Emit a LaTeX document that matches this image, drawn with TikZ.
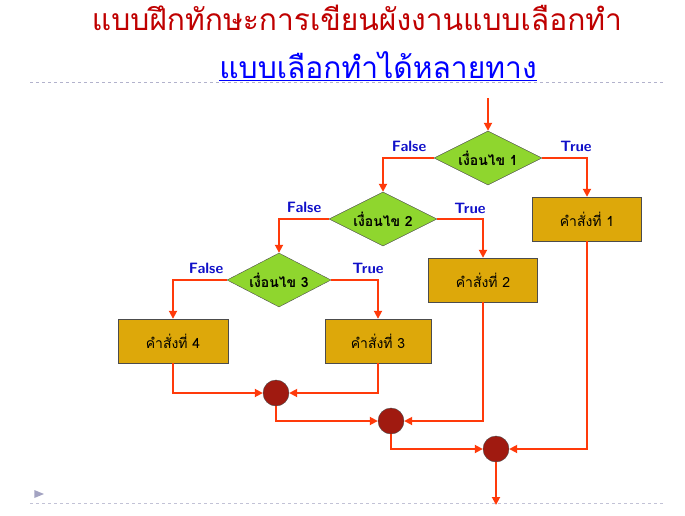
\documentclass[tikz,border=0pt]{standalone}
\usepackage{fontspec}
\newfontfamily\thaifont[Script=Thai]{Loma}
\usetikzlibrary{shapes.geometric,arrows.meta}
\definecolor{ln}{HTML}{FF3A0A}
\definecolor{dia}{HTML}{8FD62E}
\definecolor{bx}{HTML}{DDA80A}
\definecolor{cir}{HTML}{A01A10}
\definecolor{lbl}{HTML}{1010C8}
\begin{document}
\begin{tikzpicture}[x=1pt,y=-1pt,
  cond/.style={diamond,draw=black!70,fill=dia,minimum width=108pt,minimum height=54pt,aspect=2,inner sep=0pt,font=\thaifont\bfseries\fontsize{14}{16}\selectfont},
  stmt/.style={rectangle,draw=black!70,fill=bx,minimum width=109pt,minimum height=44pt,font=\thaifont\fontsize{14}{16}\selectfont},
  junc/.style={circle,draw=black!70,fill=cir,minimum size=26pt,inner sep=0pt},
  flow/.style={draw=ln,line width=1.8pt,-{Triangle[length=8pt,width=8pt]}},
  tf/.style={text=lbl,font=\sffamily\bfseries\fontsize{15}{16}\selectfont}]
\useasboundingbox (0,0) rectangle (685,515);
\node[text=red!75!black,font=\thaifont\fontsize{30}{32}\selectfont] (t1) at (357,18) {แบบฝึกทักษะการเขียนผังงานแบบเลือกทำ};
\node[text=blue,font=\thaifont\fontsize{30}{32}\selectfont] (t2) at (378,66) {\underline{แบบเลือกทำได้หลายทาง}};
\draw[dashed,draw=blue!20!gray!50] (30,82) -- (665,82);
\draw[dashed,draw=blue!20!gray!40] (30,503) -- (665,503);
\node[fill=blue!20!gray!60,isosceles triangle,minimum size=8pt,inner sep=0pt] (tri) at (37,494) {};
\node[cond] (d1) at (488,158) {เงื่อนไข 1};
\node[cond] (d2) at (383,219) {เงื่อนไข 2};
\node[cond,minimum width=104pt] (d3) at (279,280) {เงื่อนไข 3};
\node[stmt] (b1) at (587,219) {คำสั่งที่ 1};
\node[stmt] (b2) at (483,280) {คำสั่งที่ 2};
\node[stmt,minimum width=106pt] (b3) at (378,341) {คำสั่งที่ 3};
\node[stmt,minimum width=110pt] (b4) at (173,341) {คำสั่งที่ 4};
\node[junc] (c1) at (276,393) {};
\node[junc] (c2) at (391,421) {};
\node[junc] (c3) at (496,449) {};
\coordinate (s) at (488,98);
\coordinate (e) at (496,505);
\draw[flow] (s) -- (d1.north);
\draw[flow] (d1.west) -| (d2.north);
\draw[flow] (d1.east) -| (b1.north);
\draw[flow] (d2.west) -| (d3.north);
\draw[flow] (d2.east) -| (b2.north);
\draw[flow] (d3.west) -| (b4.north);
\draw[flow] (d3.east) -| (b3.north);
\draw[flow] (b4.south) |- (c1.west);
\draw[flow] (b3.south) |- (c1.east);
\draw[flow] (c1.south) |- (c2.west);
\draw[flow] (b2.south) |- (c2.east);
\draw[flow] (c2.south) |- (c3.west);
\draw[flow] (b1.south) |- (c3.east);
\draw[flow] (c3.south) -- (e);
\node[tf] (f1) at (409,146) {False};
\node[tf] (r1) at (576,146) {True};
\node[tf] (f2) at (304,207) {False};
\node[tf] (r2) at (470,208) {True};
\node[tf] (f3) at (206,268) {False};
\node[tf] (r3) at (368,268) {True};
\end{tikzpicture}
\end{document}
